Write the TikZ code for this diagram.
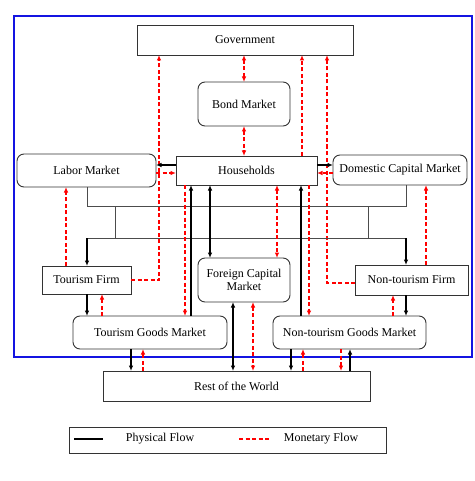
\documentclass[tikz,border=0pt]{standalone}
\usepackage{fontspec}
\setmainfont{Liberation Serif}
\usetikzlibrary{arrows.meta}
\definecolor{frameblue}{RGB}{20,20,225}
\definecolor{monred}{RGB}{255,0,0}
\begin{document}
\begin{tikzpicture}[x=1pt,y=-1pt,
  font=\fontsize{12}{13.5}\selectfont,
  box/.style={draw=black!80, line width=0.9pt, inner sep=0pt, outer sep=0pt, align=center},
  rbox/.style={box, rounded corners=7pt},
  tip/.tip={Latex[length=5.5pt,width=4.5pt]},
  phys/.style={line width=1.1pt, draw=black, -tip},
  physboth/.style={line width=1.1pt, draw=black, tip-tip},
  mon/.style={line width=1.15pt, draw=monred, color=monred, dash pattern=on 4pt off 2.5pt, -tip},
  monboth/.style={line width=1.15pt, draw=monred, color=monred, dash pattern=on 4pt off 2.5pt, tip-tip},
  tree/.style={line width=1pt, draw=black!70},
  legphys/.style={line width=1.1pt, draw=black},
  legmon/.style={line width=1.15pt, draw=monred, dash pattern=on 4pt off 2.5pt},
  blueframe/.style={draw=frameblue, line width=1.5pt}
]
\useasboundingbox (0,0) rectangle (474,481);
\fill[white] (0,0) rectangle (474,481);

% outer blue frame
\draw[blueframe] (14,16) rectangle (472,357);

% nodes
\node[box, minimum width=216pt, minimum height=30pt] (gov) at (245,40) {Government};
\node[rbox, minimum width=92pt, minimum height=44pt] (bond) at (244,104) {Bond Market};
\node[rbox, minimum width=139pt, minimum height=33pt] (lm) at (86.5,170.5) {Labor Market};
\node[box, minimum width=141pt, minimum height=29pt] (hh) at (246.5,170.5) {Households};
\node[rbox, minimum width=134pt, minimum height=30pt] (dcm) at (400,170) {Domestic Capital Market};
\node[box, minimum width=89pt, minimum height=28pt] (tf) at (86.5,280) {Tourism Firm};
\node[rbox, minimum width=92pt, minimum height=44pt] (fcm) at (244,280) {Foreign Capital\\Market};
\node[box, minimum width=113pt, minimum height=30pt] (ntf) at (411.5,280) {Non-tourism Firm};
\node[rbox, minimum width=154pt, minimum height=33pt] (tgm) at (150,332.5) {Tourism Goods Market};
\node[rbox, minimum width=153pt, minimum height=33pt] (ntgm) at (349.5,332.5) {Non-tourism Goods Market};
\node[box, minimum width=267pt, minimum height=30pt] (row) at (236.5,386) {Rest of the World};

% legend
\node[box, minimum width=317pt, minimum height=26pt] (legend) at (227.5,440) {};
\coordinate (lpa) at (74,439);
\coordinate (lpb) at (103,439);
\coordinate (lma) at (239,439);
\coordinate (lmb) at (269,439);
\node (lpt) at (160,439) {Physical Flow};
\node (lmt) at (321,439) {Monetary Flow};
\draw[legphys] (lpa) -- (lpb);
\draw[legmon] (lma) -- (lmb);

% column and row guides
\coordinate (cA) at (66,0);
\coordinate (cB) at (87,0);
\coordinate (cC) at (102,0);
\coordinate (cD) at (115,0);
\coordinate (cE) at (131,0);
\coordinate (cF) at (143,0);
\coordinate (cG) at (159,0);
\coordinate (cH) at (185,0);
\coordinate (cI) at (191,0);
\coordinate (cJ) at (210,0);
\coordinate (cK) at (233,0);
\coordinate (cL) at (244,0);
\coordinate (cM) at (253,0);
\coordinate (cN) at (277,0);
\coordinate (cO) at (291,0);
\coordinate (cP) at (301,0);
\coordinate (cQ) at (302,0);
\coordinate (cR) at (303,0);
\coordinate (cS) at (309,0);
\coordinate (cT) at (327,0);
\coordinate (cU) at (341,0);
\coordinate (cV) at (350,0);
\coordinate (cW) at (368,0);
\coordinate (cX) at (393,0);
\coordinate (cY) at (406,0);
\coordinate (cZ) at (426,0);
\coordinate (r165) at (0,165);
\coordinate (r173) at (0,173);
\coordinate (r206) at (0,206);
\coordinate (r238) at (0,238);

% government / bond / households
\draw[monboth] (gov.south -| cL) -- (bond.north -| cL);
\draw[monboth] (bond.south -| cL) -- (hh.north -| cL);
\draw[mon] (tf.east) -| (gov.south -| cG);
\draw[mon] (hh.north -| cQ) -- (gov.south -| cQ);
\draw[mon] ([yshift=-3pt]ntf.west) -| (gov.south -| cT);

% households with labor / domestic capital market
\draw[phys] (hh.west |- r165) -- (lm.east |- r165);
\draw[mon] (lm.east |- r173) -- (hh.west |- r173);
\draw[phys] (hh.east |- r165) -- (dcm.west |- r165);
\draw[mon] (dcm.west |- r173) -- (hh.east |- r173);

% factor tree
\draw[tree] (lm.south -| cB) -- (cB |- r206) -- (cY |- r206) -- (dcm.south -| cY);
\draw[tree] (cD |- r206) -- (cD |- r238);
\draw[tree] (cW |- r206) -- (cW |- r238);
\draw[tree] (cB |- r238) -- (cY |- r238);
\draw[phys] (cB |- r238) -- (tf.north -| cB);
\draw[phys] (cY |- r238) -- (ntf.north -| cY);

\draw[mon] (tf.north -| cA) -- (lm.south -| cA);
\draw[mon] (ntf.north -| cZ) -- (dcm.south -| cZ);

% households with foreign capital and goods markets
\draw[physboth] (hh.south -| cJ) -- (fcm.north -| cJ);
\draw[monboth] (hh.south -| cN) -- (fcm.north -| cN);
\draw[phys] (tgm.north -| cI) -- (hh.south -| cI);
\draw[mon] (hh.south -| cH) -- (tgm.north -| cH);
\draw[phys] (ntgm.north -| cP) -- (hh.south -| cP);
\draw[mon] (hh.south -| cS) -- (ntgm.north -| cS);

% firms and goods markets
\draw[phys] (tf.south -| cB) -- (tgm.north -| cB);
\draw[mon] (tgm.north -| cC) -- (tf.south -| cC);
\draw[phys] (ntf.south -| cY) -- (ntgm.north -| cY);
\draw[mon] (ntgm.north -| cX) -- (ntf.south -| cX);

% rest of the world
\draw[phys] (tgm.south -| cE) -- (row.north -| cE);
\draw[mon] (row.north -| cF) -- (tgm.south -| cF);
\draw[physboth] (fcm.south -| cK) -- (row.north -| cK);
\draw[monboth] (fcm.south -| cM) -- (row.north -| cM);
\draw[phys] (ntgm.south -| cO) -- (row.north -| cO);
\draw[mon] (row.north -| cR) -- (ntgm.south -| cR);
\draw[mon] (ntgm.south -| cU) -- (row.north -| cU);
\draw[phys] (row.north -| cV) -- (ntgm.south -| cV);
\end{tikzpicture}
\end{document}
